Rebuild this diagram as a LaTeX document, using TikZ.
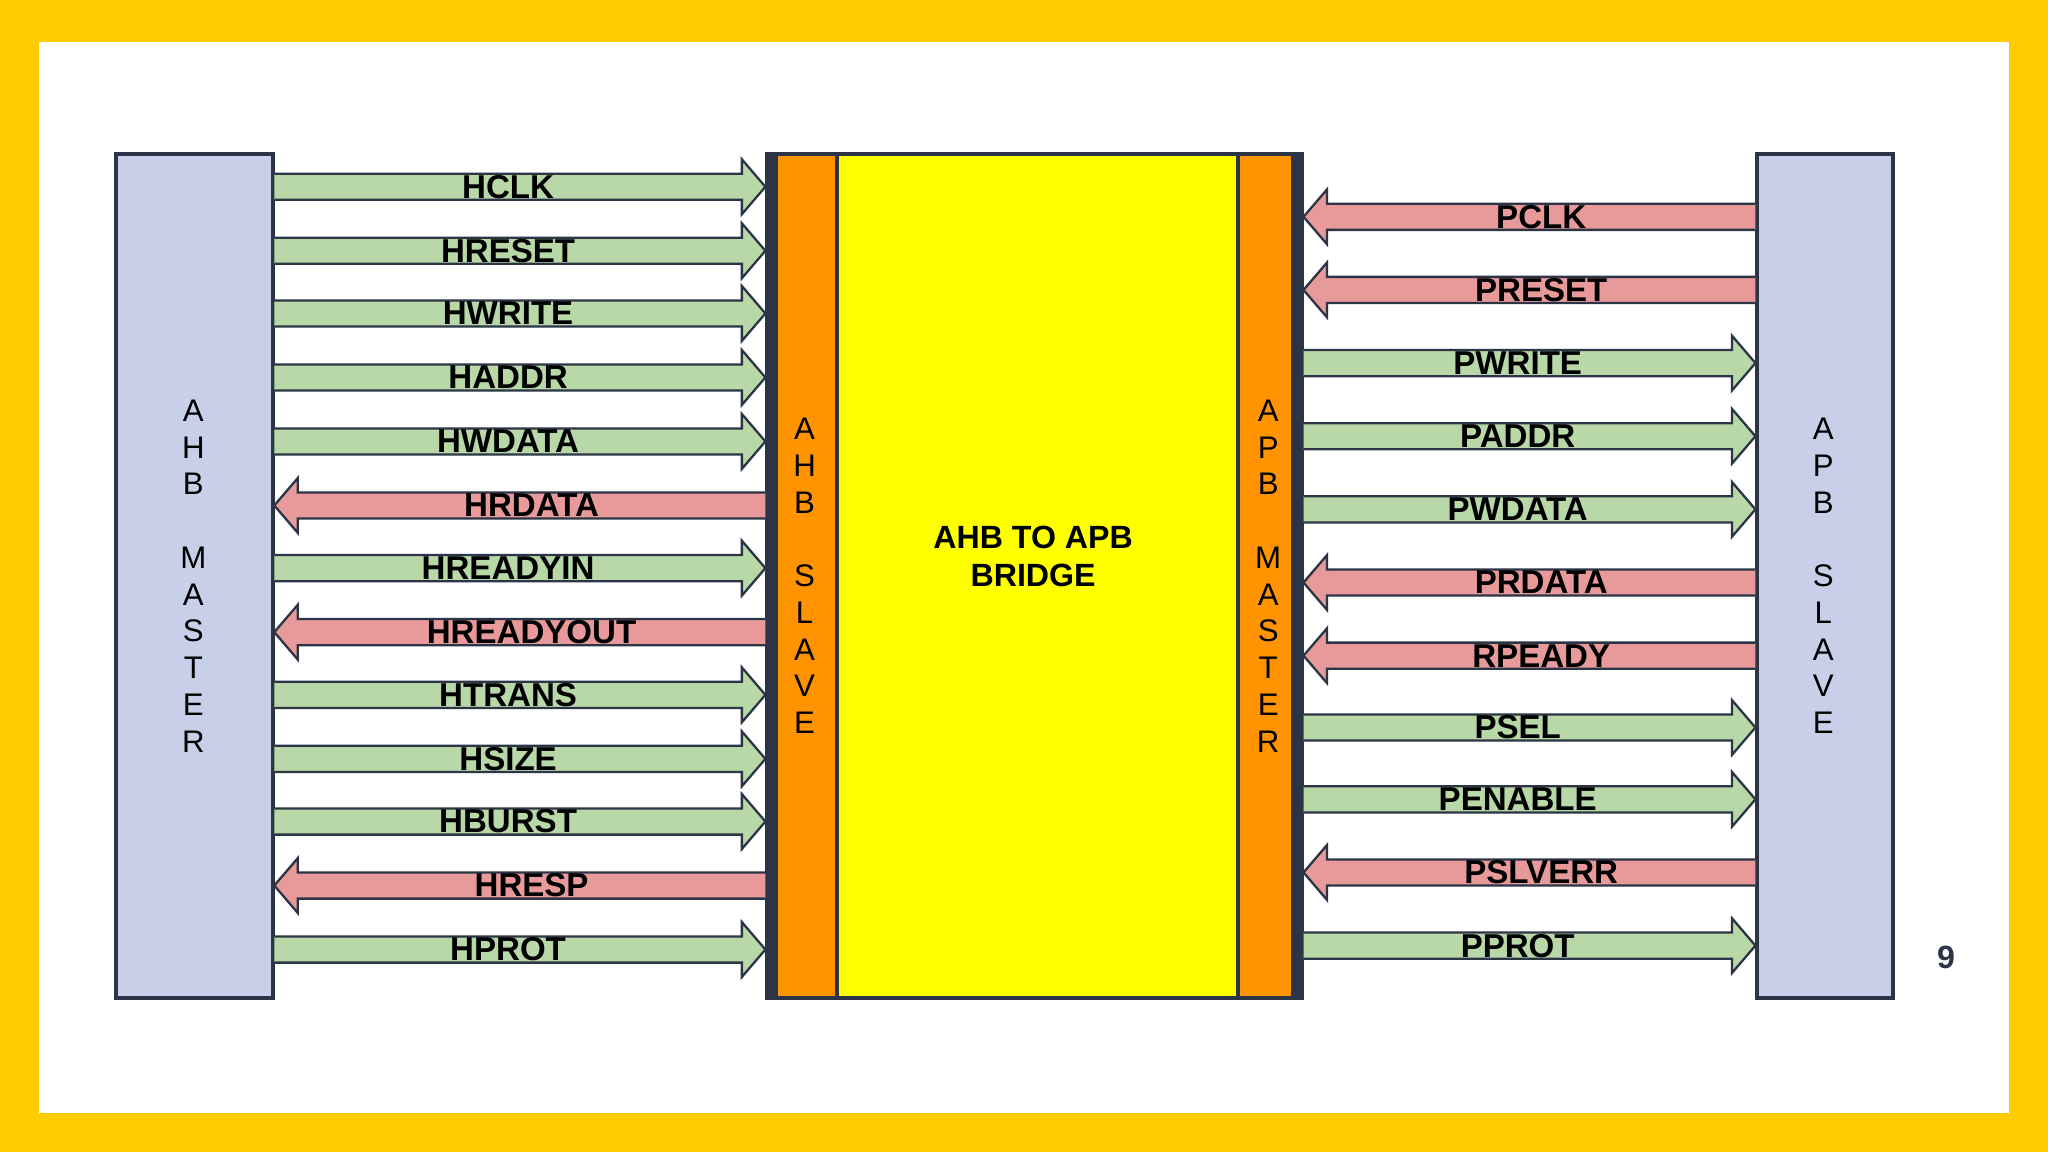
\documentclass[tikz,border=0pt]{standalone}
\usepackage{fontspec}
\setmainfont{Liberation Sans}
\begin{document}
\begin{tikzpicture}[x=0.01cm,y=-0.01cm,
  blk/.style={draw=edge,line width=0.9pt},
  lbl/.style={font=\bfseries\fontsize{7.2}{8}\selectfont,inner sep=0pt},
  vtxt/.style={font=\fontsize{6.8}{8}\selectfont,align=center,inner sep=0pt},
  arr/.style={draw=edge,line width=0.5pt}]
\definecolor{frame}{HTML}{FFCC00}
\definecolor{edge}{HTML}{2B3545}
\definecolor{mblue}{HTML}{C7D0E8}
\definecolor{agreen}{HTML}{B8D8A8}
\definecolor{ared}{HTML}{E89A9A}
\definecolor{orng}{HTML}{FF9400}
\definecolor{yel}{HTML}{FFFF00}
\fill[frame] (0,0) rectangle (1568,882);
\fill[white] (30,32) rectangle (1538,852);
\useasboundingbox (0,0) rectangle (1568,882);
% boxes
\fill[mblue] (89,118) rectangle (209,764); \draw[blk] (89,118) rectangle (209,764);
\fill[mblue] (1345,118) rectangle (1449,764); \draw[blk] (1345,118) rectangle (1449,764);
\fill[orng] (587,118) rectangle (997,764);
\fill[yel] (641,118) rectangle (948,764);
\draw[blk] (587,118) rectangle (997,764);
\draw[blk] (641,118) -- (641,764) (948,118) -- (948,764);
\draw[blk,line width=2.5pt] (591,118) -- (591,764);
\draw[blk,line width=2.5pt] (993,118) -- (993,764);
% vertical texts
\node[vtxt] (t1) at (148,441) {A\\H\\B\\[8pt]M\\A\\S\\T\\E\\R};
\node[vtxt] (t2) at (616,441) {A\\H\\B\\[8pt]S\\L\\A\\V\\E};
\node[vtxt] (t3) at (971,441) {A\\P\\B\\[8pt]M\\A\\S\\T\\E\\R};
\node[vtxt] (t4) at (1396,441) {A\\P\\B\\[8pt]S\\L\\A\\V\\E};
\node[font=\bfseries\fontsize{7}{8.4}\selectfont,align=center] (br) at (791,426) {AHB TO APB\\BRIDGE};
\node[font=\bfseries\fontsize{7}{8}\selectfont,text=edge] (pg) at (1490,733) {9};
% arrows
\newcommand{\rA}[4]{%
  \filldraw[arr,fill=agreen] (#2,#1-10) -- (#3-18,#1-10) -- (#3-18,#1-21) -- (#3,#1) -- (#3-18,#1+21) -- (#3-18,#1+10) -- (#2,#1+10);
  \node[lbl] at ({(#2+#3-18)/2},#1) {#4};}
\newcommand{\lA}[4]{%
  \filldraw[arr,fill=ared] (#3,#1-10) -- (#2+18,#1-10) -- (#2+18,#1-21) -- (#2,#1) -- (#2+18,#1+21) -- (#2+18,#1+10) -- (#3,#1+10);
  \node[lbl] at ({(#2+#3+18)/2},#1) {#4};}
\rA{143}{210}{586}{HCLK}
\rA{192}{210}{586}{HRESET}
\rA{240}{210}{586}{HWRITE}
\rA{289}{210}{586}{HADDR}
\rA{338}{210}{586}{HWDATA}
\lA{387}{210}{586}{HRDATA}
\rA{435}{210}{586}{HREADYIN}
\lA{484}{210}{586}{HREADYOUT}
\rA{532}{210}{586}{HTRANS}
\rA{581}{210}{586}{HSIZE}
\rA{629}{210}{586}{HBURST}
\lA{678}{210}{586}{HRESP}
\rA{727}{210}{586}{HPROT}
\lA{166}{998}{1344}{PCLK}
\lA{222}{998}{1344}{PRESET}
\rA{278}{998}{1344}{PWRITE}
\rA{334}{998}{1344}{PADDR}
\rA{390}{998}{1344}{PWDATA}
\lA{446}{998}{1344}{PRDATA}
\lA{502}{998}{1344}{RPEADY}
\rA{557}{998}{1344}{PSEL}
\rA{612}{998}{1344}{PENABLE}
\lA{668}{998}{1344}{PSLVERR}
\rA{724}{998}{1344}{PPROT}
\end{tikzpicture}
\end{document}
